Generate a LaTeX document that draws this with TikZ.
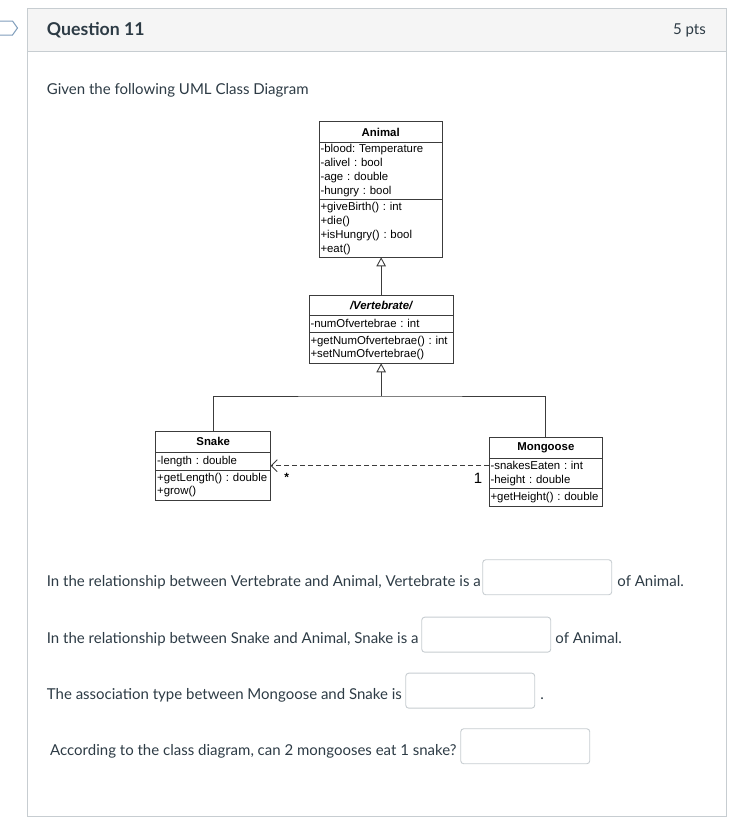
\documentclass[tikz,border=0pt]{standalone}
\usepackage{fontspec}
\setmainfont{Lato}
\newfontfamily\umlfont{Liberation Sans}
\usepackage{tikz}
\usetikzlibrary{arrows.meta, positioning}

\definecolor{canvastext}{HTML}{2D3B45}
\definecolor{cardline}{HTML}{C7CDD1}
\definecolor{headbg}{HTML}{F5F5F5}
\definecolor{flagline}{HTML}{7F9DBB}
\definecolor{umlline}{HTML}{3C3C3C}

\newcommand{\umlsize}{\fontsize{11.4}{13.9}\selectfont}
\newcommand{\qsize}{\fontsize{15}{18}\selectfont}

\begin{document}
\frenchspacing
\begin{tikzpicture}[
    x=1pt, y=-1pt,
    node distance=0pt,
    umlhead/.style={
        draw=umlline, line width=0.9pt, outer sep=0pt,
        inner xsep=1.5pt, inner ysep=0pt, text width=#1,
        font=\umlfont\umlsize\bfseries, align=center
    },
    umlbody/.style={
        draw=umlline, line width=0.9pt, outer sep=0pt,
        inner xsep=1.5pt, inner ysep=0pt, text width=#1,
        font=\umlfont\umlsize, align=left
    },
    line/.style={draw=umlline, line width=0.9pt},
    gen/.style={line, -{Triangle[open, length=9pt, width=9.5pt, line width=0.9pt]}},
    dep/.style={line, dash pattern=on 5pt off 3pt, -{Straight Barb[length=6pt, width=12pt, line width=0.8pt]}},
    mult/.style={font=\umlfont, text=black, inner sep=0pt},
    qtext/.style={font=\qsize, text=canvastext, anchor=west, inner sep=0pt},
    answer/.style={draw=cardline, line width=0.9pt, rounded corners=3pt, fill=white, anchor=north west,
        minimum width=129pt, minimum height=35pt, inner sep=0pt}
]
\useasboundingbox (0,0) rectangle (732,825);

% Card and header
\fill[headbg] (27,8.5) rectangle (726,51.7);
\draw[cardline, line width=1pt] (27,8.5) rectangle (726,816);
\draw[cardline, line width=1pt] (27,51.7) -- (726,51.7);
\draw[flagline, line width=1pt] (-2,21) -- (12.5,21) -- (17.5,28) -- (12.5,35) -- (-2,35);

\node[font=\fontsize{17.7}{20}\selectfont\bfseries, text=canvastext, anchor=west, inner sep=0pt]
    (title) at (46.7,30) {Question 11};
\node[font=\fontsize{15}{18}\selectfont, text=canvastext, anchor=east, inner sep=0pt]
    (points) at (706,30.5) {5 pts};
\node[qtext] (intro) at (46.7,90) {Given the following UML Class Diagram};

% Animal
\node[umlhead=120.5pt, minimum height=20.6pt, anchor=north west] (animal) at (319,121.7) {Animal};
\node[umlbody=120.5pt, minimum height=57pt, below=of animal] (animal_attr)
    {-blood: Temperature\\-alivel : bool\\-age : double\\-hungry : bool};
\node[umlbody=120.5pt, minimum height=58pt, below=of animal_attr] (animal_meth)
    {+giveBirth() : int\\+die()\\+isHungry() : bool\\+eat()};

% Vertebrate
\node[umlhead=141.3pt, minimum height=20pt, anchor=north west] (vert) at (309,295)
    {\itshape /Vertebrate/};
\node[umlbody=141.3pt, minimum height=17.7pt, below=of vert] (vert_attr)
    {-numOfvertebrae : int};
\node[umlbody=141.3pt, minimum height=30.6pt, below=of vert_attr] (vert_meth)
    {+getNumOfvertebrae() : int\\+setNumOfvertebrae()};

% Snake
\node[umlhead=112pt, minimum height=21.3pt, anchor=north west] (snake) at (155.7,431) {Snake};
\node[umlbody=112pt, minimum height=17.7pt, below=of snake] (snake_attr)
    {-length : double};
\node[umlbody=112pt, minimum height=30pt, below=of snake_attr] (snake_meth)
    {+getLength() : double\\+grow()};

% Mongoose
\node[umlhead=110.7pt, minimum height=21pt, anchor=north west] (mong) at (489,437.3) {Mongoose};
\node[umlbody=110.7pt, minimum height=30pt, below=of mong] (mong_attr)
    {-snakesEaten : int\\-height : double};
\node[umlbody=110.7pt, minimum height=18.4pt, below=of mong_attr] (mong_meth)
    {+getHeight() : double};

% Generalization
\draw[gen] (vert.north) -- (vert.north |- animal_meth.south);
\path (vert_meth.south) ++(0,32.7) coordinate (fork);
\draw[line] (snake.north) |- (fork) -| (mong.north);
\draw[gen] (fork) -- (vert_meth.south);

% Association
\coordinate (dep_start) at ([yshift=-7.4pt]mong_attr.north west);
\coordinate (dep_end) at (dep_start -| snake_attr.east);
\draw[dep] (dep_start) -- (dep_end);
\node[mult, font=\umlfont\bfseries\fontsize{12}{12}\selectfont] (mult_snake) at ([xshift=16pt, yshift=-12pt]dep_end) {*};
\node[mult, font=\umlfont\fontsize{15}{15}\selectfont] (mult_mong) at ([xshift=-11pt, yshift=-13pt]dep_start) {1};

% Questions
\node[qtext] (q1) at (46.7,582) {In the relationship between Vertebrate and Animal, Vertebrate is a};
\node[answer] (a1) at (482.3,559.3) {};
\node[qtext, anchor=base west, xshift=5pt] (q1_end) at (a1.east |- q1.base) {of Animal.};

\node[qtext] (q2) at (46.7,639) {In the relationship between Snake and Animal, Snake is a};
\node[answer] (a2) at (421.3,616.7) {};
\node[qtext, anchor=base west, xshift=4pt] (q2_end) at (a2.east |- q2.base) {of Animal.};

\node[qtext] (q3) at (46.7,695) {The association type between Mongoose and Snake is};
\node[answer] (a3) at (405.3,672.7) {};
\node[qtext, anchor=base west, xshift=5pt] (q3_end) at (a3.east |- q3.base) {.};

\node[qtext] (q4) at (50,751) {According to the class diagram, can 2 mongooses eat 1 snake?};
\node[answer] (a4) at (460.3,728.3) {};

\end{tikzpicture}
\end{document}
